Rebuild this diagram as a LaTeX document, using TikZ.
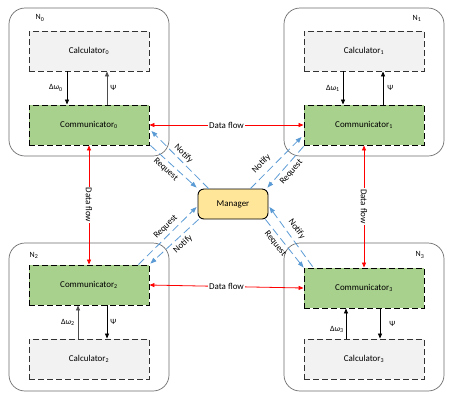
\documentclass[tikz,border=0pt]{standalone}
\usepackage{fontspec}
\setmainfont{Carlito}
\usetikzlibrary{arrows.meta,calc}
\definecolor{calcfill}{HTML}{F2F2F2}
\definecolor{commfill}{HTML}{A9D18E}
\definecolor{mgrfill}{HTML}{FFE699}
\definecolor{flowblue}{HTML}{5B9BD5}
\definecolor{framegray}{HTML}{6E6E6E}
\begin{document}
\begin{tikzpicture}[x=1bp,y=-1bp, font=\fontsize{9}{10}\selectfont,
 nodebox/.style={draw=framegray, line width=0.7bp, rounded corners=16bp, minimum width=160bp, minimum height=148bp, inner sep=0pt},
 calcbox/.style={draw=black!80, fill=calcfill, dash pattern=on 6bp off 3bp, line width=0.9bp, minimum width=120bp, minimum height=40bp, inner sep=0pt},
 commbox/.style={calcbox, draw=black},
 commfilled/.style={fill=commfill},
 mgrbox/.style={draw=black, fill=mgrfill, rounded corners=6bp, line width=0.9bp, minimum width=70bp, minimum height=30bp, inner sep=0pt},
 calarrow/.style={-{Triangle[length=5bp,width=4bp]}, line width=0.8bp},
 dataflow/.style={{Triangle[length=5bp,width=4bp]}-{Triangle[length=5bp,width=4bp]}, red, line width=0.8bp},
 ctrlline/.style={-{Triangle[length=6bp,width=4.5bp]}, flowblue, line width=0.8bp, dash pattern=on 8bp off 4bp},
 smalllbl/.style={font=\fontsize{8}{9}\selectfont, inner sep=1bp, text=black},
 flowlbl/.style={fill=white, inner sep=1bp, text=black},
 ctrllbl/.style={sloped, text=black, inner sep=3.5bp, font=\fontsize{9}{10}\selectfont}
]
\path[use as bounding box, fill=white] (0,0) rectangle (454,404);

% outer node frames
\node[nodebox] (N0) at (89,82) {};
\node[nodebox] (N1) at (364,82) {};
\node[nodebox] (N2) at (89,317) {};
\node[nodebox] (N3) at (364,317) {};
\node[smalllbl] (n0lbl) at (40,18) {N\textsubscript{0}};
\node[smalllbl] (n1lbl) at (417,18) {N\textsubscript{1}};
\node[smalllbl] (n2lbl) at (34,255) {N\textsubscript{2}};
\node[smalllbl] (n3lbl) at (420,255) {N\textsubscript{3}};

% inner boxes
\node[calcbox] (calc0) at (89,51) {Calculator\textsubscript{0}};
\node[commbox, commfilled] (comm0) at (89,125) {Communicator\textsubscript{0}};
\node[calcbox] (calc1) at (364,51) {Calculator\textsubscript{1}};
\node[commbox, commfilled] (comm1) at (364,125) {Communicator\textsubscript{1}};
\node[commbox, commfilled] (comm2) at (89,285) {Communicator\textsubscript{2}};
\node[calcbox] (calc2) at (89,359) {Calculator\textsubscript{2}};
\node[commbox, commfilled] (comm3) at (364,288) {Communicator\textsubscript{3}};
\node[calcbox] (calc3) at (364,359) {Calculator\textsubscript{3}};
\node[mgrbox] (mgr) at (233,204) {Manager};

% calculator <-> communicator
\draw[calarrow] ($(calc0.south)+(-22,0)$) -- ($(comm0.north)+(-22,0)$) node[midway, left, smalllbl, xshift=-3bp] {Δω\textsubscript{0}};
\draw[calarrow, black!70] ($(comm0.north)+(18,0)$) -- ($(calc0.south)+(18,0)$) node[midway, right, smalllbl, xshift=2bp] {Ψ};
\draw[calarrow] ($(calc1.south)+(-21,0)$) -- ($(comm1.north)+(-21,0)$) node[midway, left, smalllbl, xshift=-2bp] {Δω\textsubscript{1}};
\draw[calarrow] ($(comm1.north)+(19,0)$) -- ($(calc1.south)+(19,0)$) node[midway, right, smalllbl, xshift=3bp] {Ψ};
\draw[calarrow, black!70] ($(calc2.north)+(-11,0)$) -- ($(comm2.south)+(-11,0)$) node[midway, left, smalllbl, xshift=-2bp] {Δω\textsubscript{2}};
\draw[calarrow] ($(comm2.south)+(18,0)$) -- ($(calc2.north)+(18,0)$) node[midway, right, smalllbl, xshift=2bp] {Ψ};
\draw[calarrow] ($(calc3.north)+(-18,0)$) -- ($(comm3.south)+(-18,0)$) node[pos=0.3, left, smalllbl, xshift=-1bp] {Δω\textsubscript{3}};
\draw[calarrow] ($(comm3.south)+(16,0)$) -- ($(calc3.north)+(16,0)$) node[midway, right, smalllbl, xshift=8bp] {Ψ};

% data flows
\draw[dataflow] (comm0.east) -- (comm1.west) node[midway, flowlbl] {Data flow};
\draw[dataflow] (comm2.east) -- (comm3.west) node[midway, flowlbl] {Data flow};
\draw[dataflow] (comm0.south) -- (comm2.north) node[midway, flowlbl, rotate=-90] {Data flow};
\draw[dataflow] (comm1.south) -- (comm3.north) node[midway, flowlbl, rotate=-90] {Data flow};

% manager control lines
\draw[ctrlline] ($(mgr.north west)+(11,0)$) -- ($(comm0.east)+(2,6)$) node[pos=0.52, ctrllbl, above, inner sep=2.5bp] {Notify};
\draw[ctrlline] ($(comm0.south east)+(1,0)$) -- ($(mgr.north west)+(-1,-1)$) node[pos=0.44, ctrllbl, below] {Request};
\draw[ctrlline] ($(mgr.north east)+(-18,0)$) -- ($(comm1.west)+(-2,12)$) node[pos=0.35, ctrllbl, above, inner sep=5.5bp] {Notify};
\draw[ctrlline] ($(comm1.south west)+(0,1)$) -- ($(mgr.north east)+(-1,-1)$) node[pos=0.5, ctrllbl, below, inner sep=4bp] {Request};
\draw[ctrlline] ($(comm2.north east)+(-11,0)$) -- ($(mgr.west)+(-1,3)$) node[pos=0.56, ctrllbl, above] {Request};
\draw[ctrlline] ($(mgr.south west)+(1,0)$) -- ($(comm2.north east)+(1,-1)$) node[pos=0.43, ctrllbl, below] {Notify};
\draw[ctrlline] ($(comm3.north west)+(9,-1)$) -- ($(mgr.east)+(1,3)$) node[pos=0.54, ctrllbl, above, inner sep=5bp] {Notify};
\draw[ctrlline] ($(mgr.south east)+(-3,0)$) -- (comm3.north west) node[pos=0.41, ctrllbl, below] {Request};
\end{tikzpicture}
\end{document}
